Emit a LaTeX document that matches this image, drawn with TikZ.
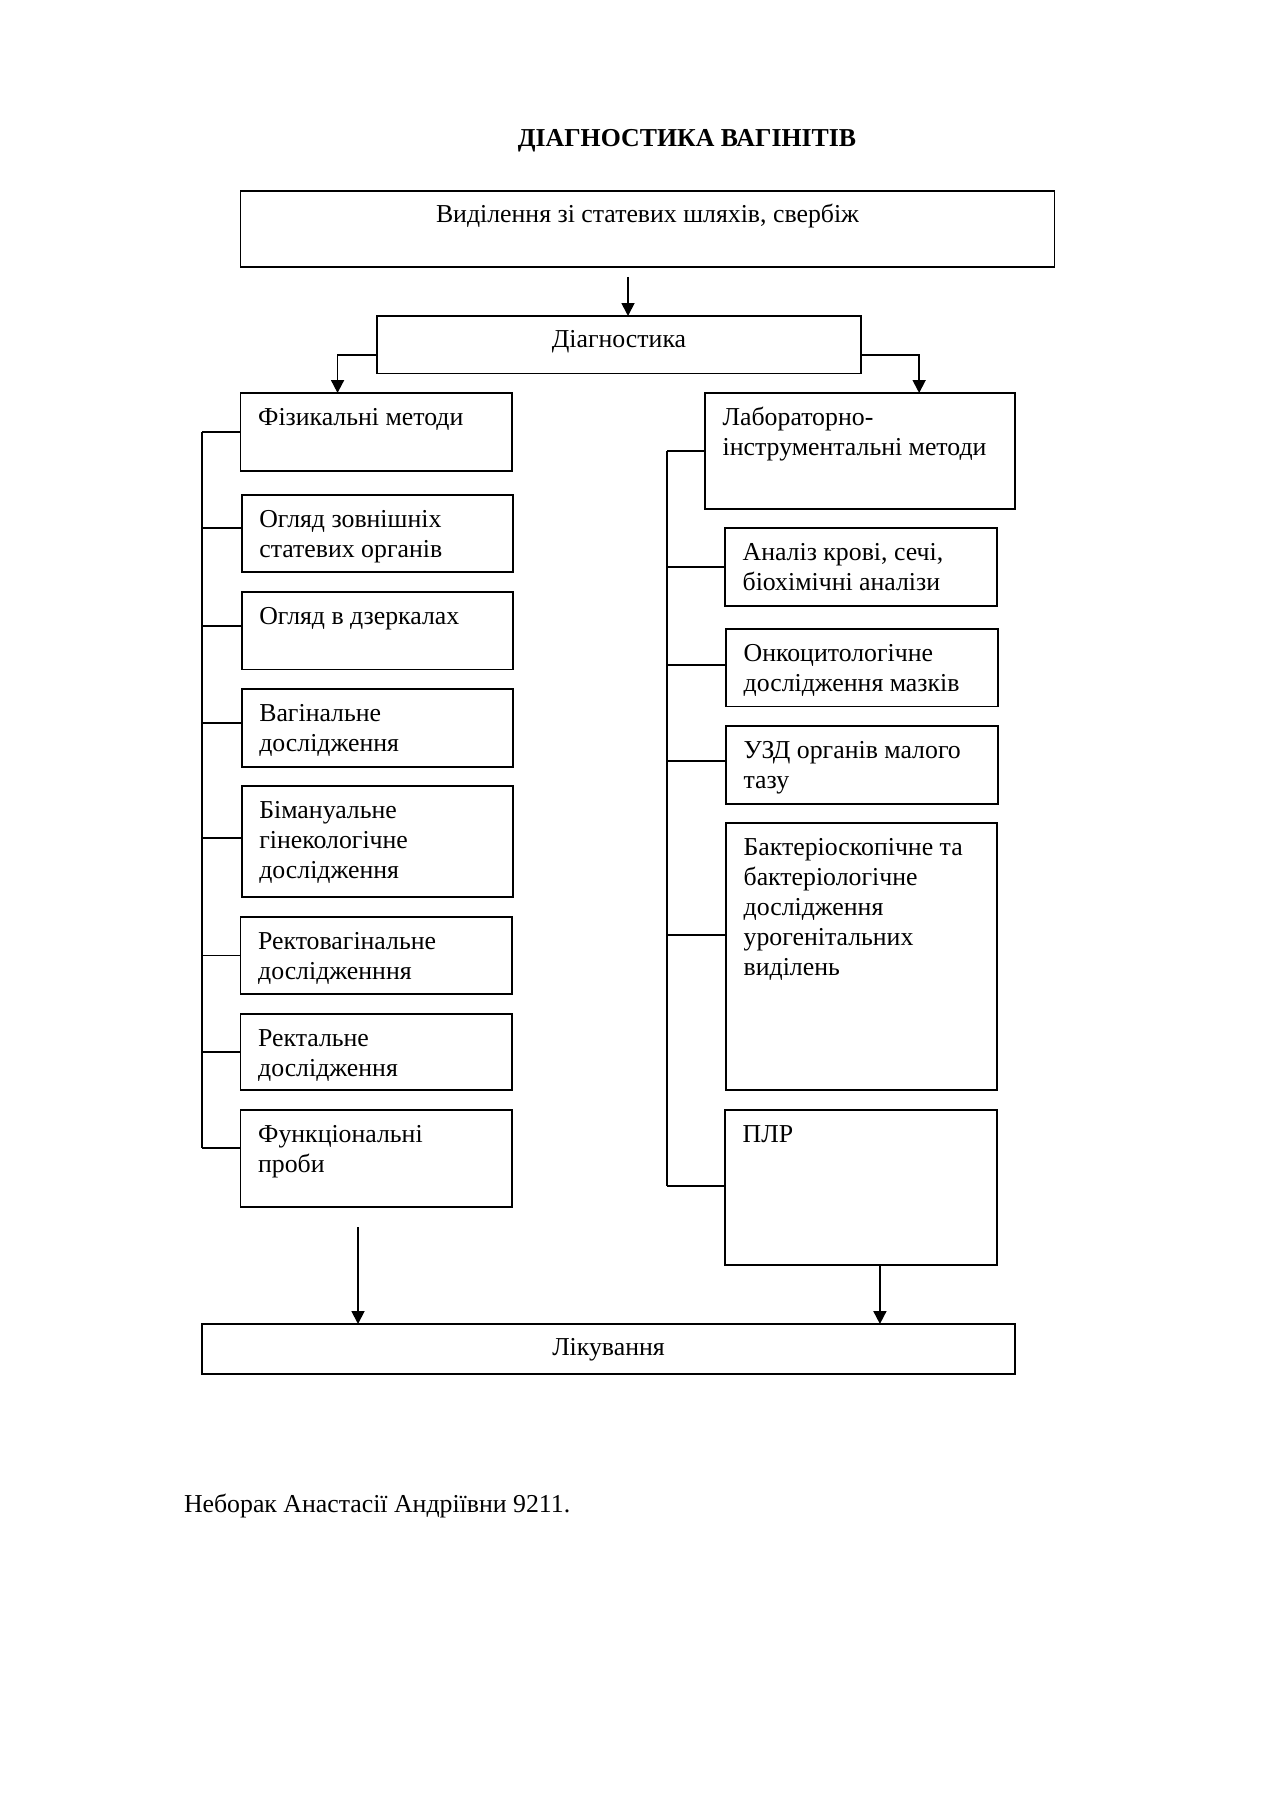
\documentclass[tikz,border=0pt]{standalone}
\usepackage{fontspec}
\setmainfont{Liberation Serif}
\usetikzlibrary{arrows.meta}
\newcommand\mybox[5]{%
  \node[boxst, minimum width={(#4-#2)*0.4651pt}, minimum height={(#5-#3)*0.4651pt}] (#1) at ({(#2+#4)/2},{(#3+#5)/2}) {};}
\newcommand\ltext[2]{%
  \node[txt, anchor=base west] (#1t) at ([xshift=8.2pt,yshift=-14.9pt]#1.north west) {\parbox[t]{7cm}{\raggedright #2}};}
\newcommand\ctext[2]{%
  \node[txt, anchor=base] (#1t) at ([yshift=-14.6pt]#1.north) {#2};}
\begin{document}
\begin{tikzpicture}[x=0.4651pt, y=-0.4651pt,
  boxst/.style={draw, line width=0.9pt, inner sep=0pt, outer sep=0pt},
  txt/.style={inner sep=0pt, outer sep=0pt, font=\fontsize{12}{13.95}\selectfont},
  ln/.style={line width=0.85pt},
  arr/.style={line width=0.85pt, -{Triangle[length=6pt,width=6pt]}}]
\useasboundingbox (0,0) rectangle (1280,1811);

\node[txt, anchor=base, font=\fontsize{12}{13.95}\selectfont\bfseries] (title) at (687,147) {ДІАГНОСТИКА ВАГІНІТІВ};

\mybox{top}{240.5}{191}{1054.5}{267}
\ctext{top}{Виділення зі статевих шляхів, свербіж}
\mybox{diag}{377}{316}{861}{373.5}
\ctext{diag}{Діагностика}

\mybox{fiz}{240.5}{393}{512}{470.6}
\ltext{fiz}{Фізикальні методи}
\mybox{la}{241.7}{495}{513.4}{572}
\ltext{la}{Огляд зовнішніх\\статевих органів}
\mybox{lb}{241.7}{592}{513.4}{669.5}
\ltext{lb}{Огляд в дзеркалах}
\mybox{lc}{241.7}{689}{513.4}{766.6}
\ltext{lc}{Вагінальне\\дослідження}
\mybox{ld}{241.7}{786}{513.4}{897}
\ltext{ld}{Бімануальне\\гінекологічне\\дослідження}
\mybox{le}{240.5}{917}{512}{994}
\ltext{le}{Ректовагінальне\\дослідженння}
\mybox{lf}{240.5}{1014}{512}{1090}
\ltext{lf}{Ректальне\\дослідження}
\mybox{lg}{240.5}{1110}{512}{1207}
\ltext{lg}{Функціональні\\проби}

\mybox{lab}{705}{393}{1015}{509}
\ltext{lab}{Лабораторно-\\інструментальні методи}
\mybox{ra}{725}{528}{997}{606}
\ltext{ra}{Аналіз крові, сечі,\\біохімічні аналізи}
\mybox{rb}{726}{629}{998}{706.5}
\ltext{rb}{Онкоцитологічне\\дослідження мазків}
\mybox{rc}{726}{726}{998}{803.6}
\ltext{rc}{УЗД органів малого\\тазу}
\mybox{rd}{726}{823}{997}{1090}
\ltext{rd}{Бактеріоскопічне та\\бактеріологічне\\дослідження\\урогенітальних\\виділень}
\mybox{re}{725}{1110}{997}{1265}
\ltext{re}{ПЛР}

\mybox{lik}{202}{1324}{1015}{1374}
\ctext{lik}{Лікування}

\node[txt, anchor=base west] (foot) at (184,1512) {Неборак Анастасії Андріївни 9211.};

% connectors
\coordinate (a0) at (628,277);
\draw[arr] (a0) -- (a0 |- diag.north);
\draw[arr] ([yshift=-4.8pt]diag.west) -| ([xshift=-18pt]fiz.north);
\draw[arr] ([yshift=-4.8pt]diag.east) -| ([xshift=27.5pt]lab.north);

% left bus
\coordinate (lbus) at (202,0);
\coordinate (fizs) at (fiz.west);
\coordinate (las) at ([yshift=2.5pt]la.west);
\coordinate (lbs) at ([yshift=2.4pt]lb.west);
\coordinate (lcs) at ([yshift=2.4pt]lc.west);
\coordinate (lds) at ([yshift=1.6pt]ld.west);
\coordinate (les) at (le.west);
\coordinate (lfs) at (lf.west);
\coordinate (lgs) at ([yshift=4.9pt]lg.west);
\draw[ln] (fizs -| lbus) -- (lgs -| lbus);
\foreach \n in {fizs,las,lbs,lcs,lds,les,lfs,lgs}{\draw[ln] (\n) -- (\n -| lbus);}

% right bus
\coordinate (rbus) at (667,0);
\coordinate (labs) at (lab.west);
\coordinate (ras) at (ra.west);
\coordinate (rbs) at ([yshift=1.2pt]rb.west);
\coordinate (rcs) at ([yshift=1.9pt]rc.west);
\coordinate (rds) at ([yshift=10pt]rd.west);
\coordinate (res) at ([yshift=0.6pt]re.west);
\draw[ln] (labs -| rbus) -- (res -| rbus);
\foreach \n in {labs,ras,rbs,rcs,rds,res}{\draw[ln] (\n) -- (\n -| rbus);}

% to treatment
\coordinate (b0) at (358,1227);
\draw[arr] (b0) -- (b0 |- lik.north);
\coordinate (b1) at ([xshift=8.8pt]re.south);
\draw[arr] (b1) -- (b1 |- lik.north);
\end{tikzpicture}
\end{document}
